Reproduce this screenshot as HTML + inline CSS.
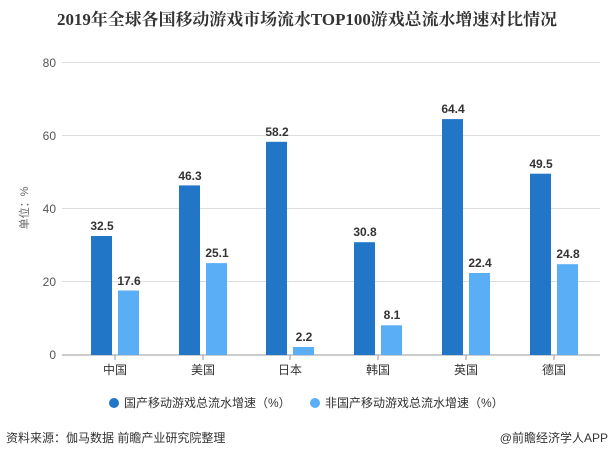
<!DOCTYPE html>
<html><head><meta charset="utf-8"><style>
body{margin:0;width:614px;height:459px;background:#fff;overflow:hidden;font-family:"Liberation Sans","Noto Sans CJK SC",sans-serif;}
</style></head><body>
<svg width="614" height="459" xmlns="http://www.w3.org/2000/svg" style="font-family:'Liberation Sans','Noto Sans CJK SC',sans-serif">
<text x="307" y="25" text-anchor="middle" font-size="16.5" font-weight="bold" fill="#333" font-family="'Liberation Serif','Noto Serif CJK SC',serif" textLength="500" lengthAdjust="spacingAndGlyphs">2019年全球各国移动游戏市场流水TOP100游戏总流水增速对比情况</text>
<g stroke="#ddd" stroke-width="1">
<line x1="62" y1="62.5" x2="600" y2="62.5"/>
<line x1="62" y1="135.5" x2="600" y2="135.5"/>
<line x1="62" y1="208.5" x2="600" y2="208.5"/>
<line x1="62" y1="281.5" x2="600" y2="281.5"/>
</g>
<line x1="62" y1="355" x2="600" y2="355" stroke="#999"/>
<g font-size="12" fill="#555" text-anchor="end">
<text x="56" y="67">80</text><text x="56" y="140">60</text><text x="56" y="213">40</text><text x="56" y="286">20</text><text x="56" y="359">0</text>
</g>
<text transform="translate(28,208) rotate(-90)" text-anchor="middle" font-size="11" fill="#666">单位：%</text>
<g font-size="12" fill="#333" text-anchor="middle">
<text x="115" y="374">中国</text><text x="203" y="374">美国</text><text x="290" y="374">日本</text><text x="378" y="374">韩国</text><text x="466" y="374">英国</text><text x="554" y="374">德国</text>
</g>
<g stroke="#999">
<line x1="115" y1="355" x2="115" y2="360"/><line x1="203" y1="355" x2="203" y2="360"/><line x1="290" y1="355" x2="290" y2="360"/><line x1="378" y1="355" x2="378" y2="360"/><line x1="466" y1="355" x2="466" y2="360"/><line x1="554" y1="355" x2="554" y2="360"/>
</g>
<g fill="#2176c7">
<rect x="91" y="236" width="21" height="119"/>
<rect x="179" y="185.4" width="21" height="169.6"/>
<rect x="266" y="141.8" width="21" height="213.2"/>
<rect x="354" y="242.2" width="21" height="112.8"/>
<rect x="442" y="119.1" width="21" height="235.9"/>
<rect x="530" y="173.7" width="21" height="181.3"/>
</g>
<g fill="#5aaef5">
<rect x="118" y="290.5" width="21" height="64.5"/>
<rect x="206" y="263.1" width="21" height="91.9"/>
<rect x="293" y="347" width="21" height="8"/>
<rect x="381" y="325.3" width="21" height="29.7"/>
<rect x="469" y="273" width="21" height="82"/>
<rect x="557" y="264.2" width="21" height="90.8"/>
</g>
<g font-size="12" font-weight="bold" fill="#333" text-anchor="middle">
<text x="102" y="230">32.5</text><text x="129" y="285">17.6</text>
<text x="190" y="180">46.3</text><text x="217" y="257">25.1</text>
<text x="277" y="136">58.2</text><text x="304" y="341">2.2</text>
<text x="365" y="236">30.8</text><text x="392" y="319">8.1</text>
<text x="453" y="113">64.4</text><text x="480" y="267">22.4</text>
<text x="541" y="168">49.5</text><text x="568" y="258">24.8</text>
</g>
<circle cx="114" cy="403" r="5" fill="#2176c7"/>
<text x="124" y="407" font-size="12" fill="#333">国产移动游戏总流水增速（%）</text>
<circle cx="315" cy="403" r="5" fill="#5aaef5"/>
<text x="325" y="407" font-size="12" fill="#333">非国产移动游戏总流水增速（%）</text>
<text x="6" y="442" font-size="12" fill="#333">资料来源：伽马数据 前瞻产业研究院整理</text>
<text x="608" y="442" font-size="12" fill="#333" text-anchor="end">@前瞻经济学人APP</text>
</svg>
</body></html>
